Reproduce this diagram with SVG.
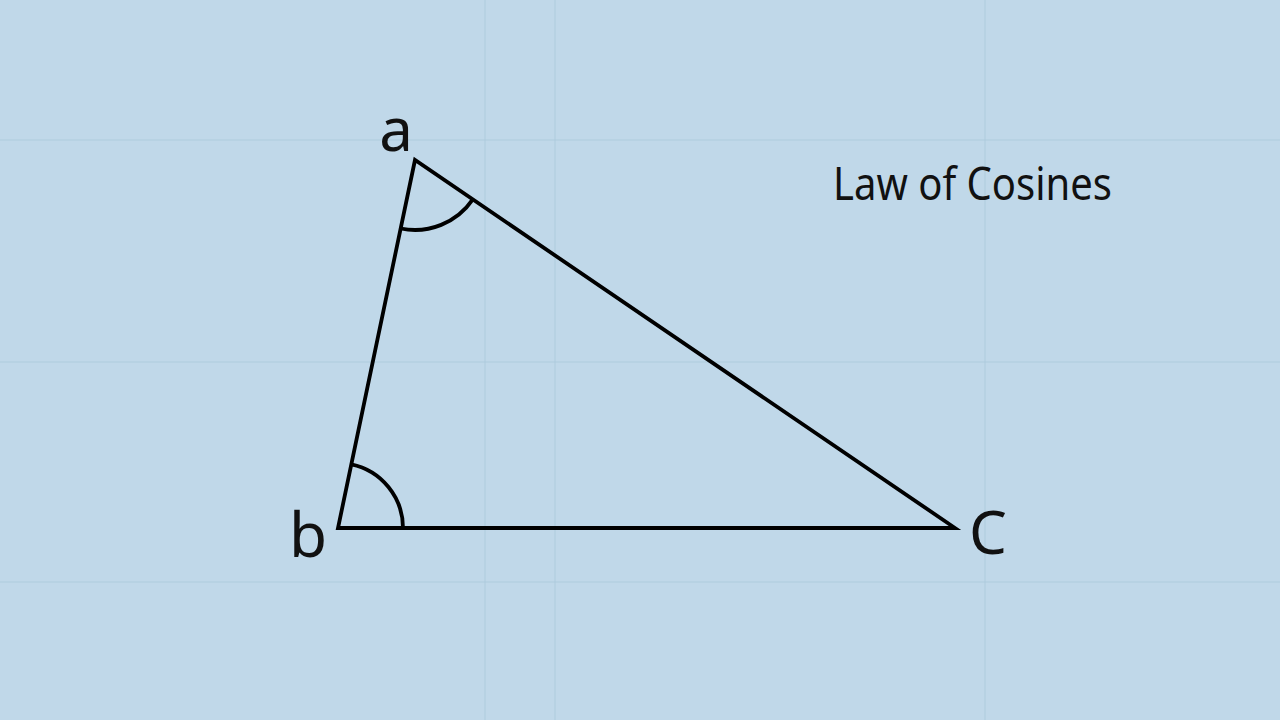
<svg xmlns="http://www.w3.org/2000/svg" width="1280" height="720" viewBox="0 0 1280 720">
<style>
.grid{stroke:#aecbdd;stroke-width:2;opacity:0.45}
.edge{stroke:#000;stroke-width:3.8;fill:none;stroke-linejoin:miter;stroke-linecap:round}
.arc{stroke:#000;stroke-width:3.8;fill:none}
.lbl{font-family:"Noto Sans","Open Sans",sans-serif;fill:#111}
</style>
<rect width="1280" height="720" fill="#c0d8e9"/>
<g id="grid">
<line class="grid" x1="0" y1="140" x2="1280" y2="140"/>
<line class="grid" x1="0" y1="362" x2="1280" y2="362"/>
<line class="grid" x1="0" y1="582" x2="1280" y2="582"/>
<line class="grid" x1="485" y1="0" x2="485" y2="720"/>
<line class="grid" x1="555" y1="0" x2="555" y2="720"/>
<line class="grid" x1="985" y1="0" x2="985" y2="720"/>
</g>
<g id="connectors">
<path class="edge" d="M415,160 L338,528 L955,528 Z"/>
<path class="arc" d="M400.7,228.5 A70,70 0 0 0 472.8,199.4"/>
<path class="arc" d="M351.3,464.4 A65,65 0 0 1 403,528"/>
</g>
<g id="node-a"><text class="lbl" x="396" y="151" font-size="60" text-anchor="middle">a</text></g>
<g id="node-b"><text class="lbl" x="308" y="557" font-size="62" text-anchor="middle">b</text></g>
<g id="node-c"><text class="lbl" x="988" y="554" font-size="60" text-anchor="middle">C</text></g>
<g id="title"><text class="lbl" x="833" y="200" font-size="45" textLength="279" lengthAdjust="spacingAndGlyphs">Law of Cosines</text></g>
</svg>
